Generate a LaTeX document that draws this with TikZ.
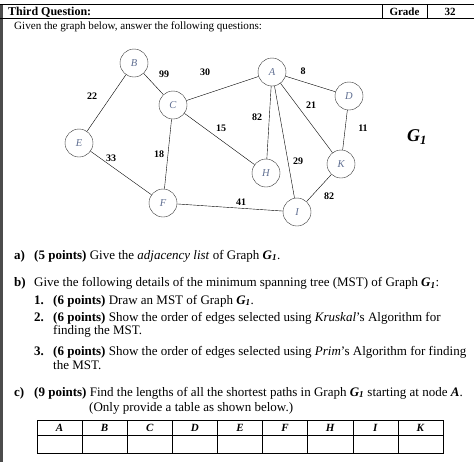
\documentclass[tikz,border=0pt]{standalone}
\usepackage{fontspec}
\setmainfont{Liberation Serif}
\usetikzlibrary{positioning}
\definecolor{vtxblue}{RGB}{95,110,145}
\newcommand{\Gone}{\textbf{\textit{G}\textsubscript{\textit{1}}}}

\begin{document}
\begin{tikzpicture}[x=1pt, y=-1pt,
  vertex/.style={circle, draw=black!80, thin, minimum size=28pt, inner sep=0pt, font=\fontsize{10.5}{10.5}\selectfont\itshape, text=vtxblue},
  wlabel/.style={inner sep=0pt, font=\fontsize{10}{10}\selectfont\bfseries},
  qline/.style={anchor=base west, inner sep=0pt, font=\fontsize{13}{15}\selectfont},
  hcell/.style={anchor=base, inner sep=0pt, font=\fontsize{11}{11}\selectfont\bfseries},
  tcell/.style={anchor=base, inner sep=0pt, font=\fontsize{11}{11}\selectfont\bfseries\itshape}
]
\useasboundingbox (0,0) rectangle (474,464);
% header strip and left bar
\fill[black!70] (0,4) rectangle (3,462);
\draw (0,4.5) -- (474,4.5);
\draw (0,18.5) -- (474,18.5);
\draw (382,4.5) -- (382,18.5);
\draw (427,4.5) -- (427,18.5);
\node[qline, font=\fontsize{12}{12}\selectfont\bfseries] (title) at (8,15.5) {Third Question:};
\node[hcell] (grade) at (404.5,15.5) {Grade};
\node[hcell] (points) at (450,15.5) {32};
\node[qline, font=\fontsize{11.1}{11}\selectfont] (intro) at (14,29) {Given the graph below, answer the following questions:};

% graph G1
\node[vertex] (B) at (134,63) {B};
\node[vertex] (C) at (173,105) {C};
\node[vertex] (E) at (79,143) {E};
\node[vertex] (F) at (163,203) {F};
\node[vertex] (A) at (272,72) {A};
\node[vertex] (D) at (349,96) {D};
\node[vertex] (H) at (266,173) {H};
\node[vertex] (K) at (341,164) {K};
\node[vertex] (I) at (297,212) {I};
\foreach \u/\v in {B/E,B/C,C/A,C/H,C/F,E/F,F/I,A/D,A/H,A/I,A/K,D/K,K/I}
  \draw (\u) -- (\v);
\node[wlabel] (wBE) at (92,96) {22};
\node[wlabel] (wBC) at (164,74) {99};
\node[wlabel] (wCA) at (205,72) {30};
\node[wlabel] (wCH) at (221,128) {15};
\node[wlabel] (wCF) at (159,154) {18};
\node[wlabel] (wEF) at (111,158) {33};
\node[wlabel] (wFI) at (241,202.5) {41};
\node[wlabel] (wAD) at (303,71) {8};
\node[wlabel] (wAH) at (257,117) {82};
\node[wlabel] (wAK) at (311,105) {21};
\node[wlabel] (wDK) at (363,128) {11};
\node[wlabel] (wAI) at (298,161) {29};
\node[wlabel] (wKI) at (329,196) {82};
\node[inner sep=0pt, font=\fontsize{18}{18}\selectfont] (gname) at (417,137) {\Gone};

% questions
\node[qline] (qa) at (14,259) {\textbf{a)}};
\node[qline] (qatext) at (34,259) {\textbf{(5 points)} Give the \textit{adjacency list} of Graph \Gone.};
\node[qline] (qb) at (14,286.5) {\textbf{b)}};
\node[qline] (qbtext) at (34,286.5) {Give the following details of the minimum spanning tree (MST) of Graph \Gone:};
\node[qline] (qb1) at (34,304) {\textbf{1.}};
\node[qline] (qb1text) at (53,304) {\textbf{(6 points)} Draw an MST of Graph \Gone.};
\node[qline] (qb2) at (34,321) {\textbf{2.}};
\node[qline] (qb2text) at (53,321) {\textbf{(6 points)} Show the order of edges selected using \textit{Kruskal}'s Algorithm for};
\node[qline] (qb2more) at (53,334) {finding the MST.};
\node[qline] (qb3) at (34,355) {\textbf{3.}};
\node[qline] (qb3text) at (53,355) {\textbf{(6 points)} Show the order of edges selected using \textit{Prim}'s Algorithm for finding};
\node[qline] (qb3more) at (53,369) {the MST.};
\node[qline] (qc) at (14,396) {\textbf{c)}};
\node[qline] (qctext) at (34,396) {\textbf{(9 points)} Find the lengths of all the shortest paths in Graph \Gone{} starting at node \textbf{\textit{A}}.};
\node[qline] (qcmore) at (89,411) {(Only provide a table as shown below.)};

% answer table
\draw (37,420) rectangle (443,453);
\draw (37,435) -- (443,435);
\foreach \i in {1,...,8}
  \draw (37+\i*45.11,420) -- (37+\i*45.11,453);
\foreach \v [count=\i from 0] in {A,B,C,D,E,F,H,I,K}
  \node[tcell] (col\v) at (59.5+\i*45.11,431.5) {\v};
\end{tikzpicture}
\end{document}
